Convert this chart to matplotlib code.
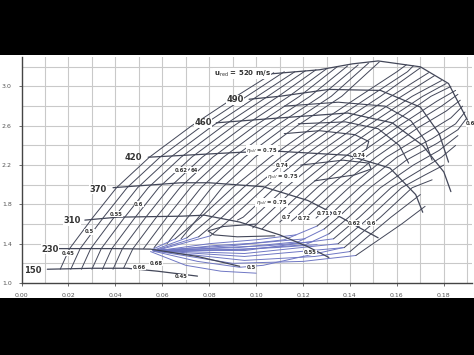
import matplotlib
matplotlib.use("Agg")
import matplotlib.pyplot as plt

# ---------------- data ----------------
x_ticks = [0.00, 0.02, 0.04, 0.06, 0.08, 0.10, 0.12, 0.14, 0.16, 0.18]
y_ticks = [1.0, 1.4, 1.8, 2.2, 2.6, 3.0]

# speed lines (u_red, m/s)
speed_150 = [(0.011, 1.14), (0.030, 1.15), (0.045, 1.15), (0.058, 1.12), (0.075, 1.07)]
speed_230 = [(0.016, 1.35), (0.040, 1.35), (0.055, 1.345), (0.075, 1.27), (0.093, 1.17)]
speed_310 = [(0.027, 1.64), (0.041, 1.67), (0.068, 1.68), (0.078, 1.69), (0.093, 1.62),
             (0.110, 1.49), (0.122, 1.37), (0.131, 1.26)]
speed_370 = [(0.039, 1.97), (0.068, 2.02), (0.080, 2.02), (0.103, 1.98), (0.122, 1.84),
             (0.136, 1.67), (0.145, 1.55), (0.152, 1.46)]
speed_420 = [(0.054, 2.28), (0.093, 2.33), (0.110, 2.34), (0.139, 2.30), (0.157, 2.17),
             (0.168, 1.90), (0.171, 1.72)]
speed_460 = [(0.083, 2.63), (0.110, 2.68), (0.139, 2.73), (0.158, 2.63), (0.171, 2.40),
             (0.180, 2.13), (0.183, 1.93)]
speed_490 = [(0.097, 2.87), (0.110, 2.90), (0.131, 2.97), (0.153, 2.96), (0.170, 2.79),
             (0.178, 2.52), (0.182, 2.23)]
speed_520 = [(0.107, 3.13), (0.127, 3.17), (0.141, 3.23), (0.152, 3.26), (0.170, 3.20),
             (0.182, 3.03), (0.190, 2.66)]

speed_lines = [speed_150, speed_230, speed_310, speed_370, speed_420, speed_460, speed_490, speed_520]
speed_labels = ["150", "230", "310", "370", "420", "460", "490"]
speed_label_pos = [(0.0048, 1.125), (0.012, 1.345), (0.0215, 1.635), (0.0326, 1.955),
                   (0.0476, 2.275), (0.0774, 2.63), (0.091, 2.865)]

# left arms of the efficiency contours
left_arms = [
    [(0.0165, 1.14), (0.0205, 1.35), (0.0305, 1.67), (0.0405, 1.97), (0.0545, 2.28), (0.0725, 2.60), (0.0915, 2.90), (0.1075, 3.14)],
    [(0.0210, 1.14), (0.0250, 1.35), (0.0350, 1.67), (0.0450, 1.97), (0.0590, 2.28), (0.0770, 2.60), (0.0960, 2.90), (0.1120, 3.15)],
    [(0.0255, 1.14), (0.0295, 1.35), (0.0395, 1.67), (0.0495, 1.97), (0.0635, 2.28), (0.0815, 2.60), (0.1005, 2.90), (0.1165, 3.15)],
    [(0.0300, 1.14), (0.0340, 1.35), (0.0440, 1.67), (0.0540, 1.97), (0.0680, 2.28), (0.0860, 2.60), (0.1050, 2.90), (0.1210, 3.16)],
    [(0.0345, 1.14), (0.0385, 1.35), (0.0485, 1.67), (0.0585, 1.97), (0.0725, 2.28), (0.0905, 2.60), (0.1095, 2.90), (0.1255, 3.17)],
    [(0.0390, 1.14), (0.0430, 1.35), (0.0530, 1.67), (0.0630, 1.97), (0.0770, 2.28), (0.0950, 2.60), (0.1140, 2.90), (0.1300, 3.18)],
    [(0.0435, 1.15), (0.0475, 1.35), (0.0575, 1.67), (0.0675, 1.97), (0.0815, 2.28), (0.0995, 2.60), (0.1185, 2.90), (0.1345, 3.20)],
    [(0.0520, 1.35), (0.0620, 1.67), (0.0720, 1.97), (0.0860, 2.28), (0.1040, 2.60), (0.1230, 2.90), (0.1390, 3.21)],
    [(0.0565, 1.36), (0.0665, 1.67), (0.0765, 1.97), (0.0905, 2.28), (0.1085, 2.60), (0.1275, 2.90), (0.1435, 3.22)],
    [(0.0620, 1.40), (0.0710, 1.67), (0.0810, 1.97), (0.0950, 2.28), (0.1130, 2.60), (0.1320, 2.90), (0.1480, 3.24)],
    [(0.0680, 1.45), (0.0755, 1.67), (0.0855, 1.97), (0.0995, 2.28), (0.1175, 2.60), (0.1365, 2.90), (0.1525, 3.25)],
]

# right arms: fan part (blue) and diagonal part (dark)
right_fans = [
    [(0.056, 1.345), (0.0655, 1.45)],
    [(0.057, 1.340), (0.0705, 1.46)],
    [(0.058, 1.340), (0.0755, 1.47)],
    [(0.059, 1.340), (0.0805, 1.48)],
    [(0.060, 1.335), (0.080, 1.40), (0.100, 1.44), (0.117, 1.49)],
    [(0.061, 1.330), (0.082, 1.38), (0.102, 1.41), (0.121, 1.45)],
    [(0.062, 1.325), (0.085, 1.36), (0.105, 1.38), (0.124, 1.42)],
    [(0.064, 1.320), (0.088, 1.34), (0.108, 1.36), (0.126, 1.39)],
    [(0.058, 1.335), (0.090, 1.38), (0.112, 1.44), (0.126, 1.58)],
    [(0.058, 1.335), (0.092, 1.36), (0.118, 1.42), (0.129, 1.55)],
    [(0.058, 1.335), (0.094, 1.34), (0.121, 1.39), (0.131, 1.50)],
    [(0.057, 1.335), (0.095, 1.33), (0.133, 1.45)],
    [(0.057, 1.330), (0.095, 1.30), (0.135, 1.40)],
    [(0.056, 1.330), (0.095, 1.27), (0.1375, 1.36)],
    [(0.056, 1.330), (0.095, 1.23), (0.125, 1.27), (0.140, 1.32)],
    [(0.056, 1.330), (0.090, 1.20), (0.120, 1.22), (0.1425, 1.28)],
    [(0.056, 1.325), (0.075, 1.22), (0.093, 1.16), (0.103, 1.18), (0.137, 1.36)],
    [(0.055, 1.320), (0.070, 1.18), (0.085, 1.12), (0.100, 1.10)],
]
right_arms = [
    [(0.0655, 1.45), (0.0765, 1.67), (0.0900, 1.97), (0.1060, 2.28), (0.1250, 2.60), (0.1440, 2.90), (0.1600, 3.15), (0.1640, 3.22)],
    [(0.0705, 1.46), (0.0810, 1.67), (0.0945, 1.97), (0.1105, 2.28), (0.1295, 2.60), (0.1485, 2.90), (0.1645, 3.15), (0.1670, 3.21)],
    [(0.0755, 1.47), (0.0855, 1.67), (0.0990, 1.97), (0.1150, 2.28), (0.1340, 2.60), (0.1530, 2.90), (0.1700, 3.19)],
    [(0.0805, 1.48), (0.0900, 1.67), (0.1035, 1.97), (0.1195, 2.28), (0.1385, 2.60), (0.1575, 2.90), (0.1735, 3.14)],
    [(0.0920, 1.64), (0.0945, 1.67), (0.1080, 1.97), (0.1240, 2.28), (0.1430, 2.60), (0.1620, 2.90), (0.1760, 3.11)],
    [(0.0955, 1.60), (0.0990, 1.67), (0.1125, 1.97), (0.1285, 2.28), (0.1475, 2.60), (0.1665, 2.90), (0.1790, 3.06)],
    [(0.0985, 1.56), (0.1035, 1.67), (0.1170, 1.97), (0.1330, 2.28), (0.1520, 2.60), (0.1710, 2.90), (0.1810, 3.03)],
    [(0.1025, 1.55), (0.1080, 1.67), (0.1215, 1.97), (0.1375, 2.28), (0.1565, 2.60), (0.1745, 2.90), (0.1830, 3.00)],
    [(0.1100, 1.62), (0.1125, 1.67), (0.1260, 1.97), (0.1420, 2.28), (0.1610, 2.60), (0.1770, 2.85), (0.1850, 2.96)],
    [(0.1150, 1.63), (0.1170, 1.67), (0.1305, 1.97), (0.1465, 2.28), (0.1655, 2.60), (0.1790, 2.80), (0.1860, 2.92)],
    [(0.1210, 1.66), (0.1350, 1.97), (0.1510, 2.28), (0.1690, 2.58), (0.1810, 2.75), (0.1870, 2.86)],
    [(0.1255, 1.66), (0.1395, 1.97), (0.1555, 2.28), (0.1720, 2.52), (0.1830, 2.68), (0.1880, 2.80)],
    [(0.1260, 1.58), (0.1305, 1.67), (0.1440, 1.97), (0.1600, 2.28), (0.1750, 2.47), (0.1850, 2.62), (0.1890, 2.74)],
    [(0.1290, 1.55), (0.1350, 1.67), (0.1485, 1.97), (0.1640, 2.25), (0.1770, 2.42), (0.1860, 2.56), (0.1895, 2.67)],
    [(0.1310, 1.50), (0.1395, 1.67), (0.1530, 1.97), (0.1670, 2.20), (0.1780, 2.35), (0.1860, 2.50)],
    [(0.1330, 1.45), (0.1440, 1.67), (0.1575, 1.97), (0.1700, 2.15), (0.1790, 2.28), (0.1850, 2.40)],
    [(0.1350, 1.40), (0.1485, 1.67), (0.1620, 1.97), (0.1720, 2.10), (0.1800, 2.20)],
    [(0.1375, 1.36), (0.1530, 1.67), (0.1665, 1.97), (0.1750, 2.05)],
    [(0.1400, 1.32), (0.1575, 1.67), (0.1700, 1.90)],
    [(0.1425, 1.28), (0.1620, 1.60), (0.1720, 1.78)],
]

# inner islands / C-shaped contours
island_075 = [(0.100, 1.60), (0.086, 1.575), (0.0795, 1.53), (0.082, 1.49), (0.092, 1.47), (0.108, 1.48)]
c074_low = [(0.119, 2.20), (0.137, 2.25), (0.148, 2.22), (0.149, 2.16), (0.142, 2.10), (0.125, 2.04)]
c074_high = [(0.112, 2.52), (0.127, 2.55), (0.142, 2.51), (0.148, 2.44), (0.147, 2.36)]
c_outer1 = [(0.112, 2.80), (0.135, 2.84), (0.155, 2.80), (0.166, 2.65), (0.172, 2.45), (0.175, 2.25)]
c_outer2 = [(0.118, 2.62), (0.138, 2.64), (0.152, 2.57), (0.161, 2.40), (0.165, 2.22)]
c_curves = [island_075, c074_low, c074_high, c_outer1, c_outer2]

eff_labels = ["0.45", "0.5", "0.55", "0.6", "0.62", "64", "0.66", "0.68", "0.45", "0.5", "0.55",
              "0.7", "0.72", "0.71", "0.7", "0.62", "0.6", "0.74", "0.74", "0.6"]
eff_label_pos = [(0.020, 1.305), (0.029, 1.52), (0.0405, 1.70), (0.050, 1.80), (0.068, 2.15),
                 (0.0735, 2.15), (0.050, 1.16), (0.0575, 1.20), (0.068, 1.065), (0.098, 1.16),
                 (0.123, 1.31), (0.113, 1.67), (0.1205, 1.66), (0.1285, 1.71), (0.1345, 1.71),
                 (0.142, 1.61), (0.149, 1.61), (0.111, 2.20), (0.144, 2.30), (0.1915, 2.62)]
eta_label_pos = [(0.1025, 2.35), (0.1115, 2.08), (0.1065, 1.82)]

# ---------------- drawing ----------------
W, H = 474, 355
fig = plt.figure(figsize=(W / 100, H / 100), dpi=100, facecolor="black")

bg = fig.add_axes([0, (H - 298) / H, 1, (298 - 55) / H])
bg.set_facecolor("white")
bg.set_xticks([])
bg.set_yticks([])
for sp in bg.spines.values():
    sp.set_visible(False)
bg.set_zorder(0)

ax = fig.add_axes([21.5 / W, (H - 283) / H, (472 - 21.5) / W, (283 - 57) / H])
ax.set_zorder(1)
ax.set_facecolor("white")
ax.set_xlim(0, 0.192)
ax.set_ylim(1.0, 3.3)

dark = "#434759"
blue = "#6f77c4"

for xv in [i * 0.01 for i in range(1, 20)]:
    ax.axvline(xv, color="#c9c9c9", lw=0.8, zorder=1)
for yv in [1.2, 1.4, 1.6, 1.8, 2.0, 2.2, 2.4, 2.6, 2.8, 3.0, 3.2]:
    ax.axhline(yv, color="#c9c9c9", lw=0.8, zorder=1)

def draw(pts, color=dark, lw=0.7, z=3):
    ax.plot([p[0] for p in pts], [p[1] for p in pts], color=color, lw=lw, zorder=z,
            solid_joinstyle="round", solid_capstyle="round")

for s in speed_lines:
    draw(s, lw=0.9, z=4)
for a in left_arms:
    draw(a)
for f in right_fans:
    draw(f, color=blue, lw=0.7)
for a in right_arms:
    draw(a)
for c in c_curves:
    draw(c, lw=0.8)

tb = dict(facecolor="white", edgecolor="none", pad=0.3)
for lab, (x, y) in zip(speed_labels, speed_label_pos):
    ax.text(x, y, lab, fontsize=6, fontweight="bold", color="#333333",
            ha="center", va="center", zorder=6, bbox=tb)
ax.text(0.094, 3.13, r"u$_{\mathrm{red}}$ = 520 m/s", fontsize=5.0, fontweight="bold",
        color="#333333", ha="center", va="center", zorder=6, bbox=tb)
for lab, (x, y) in zip(eff_labels, eff_label_pos):
    ax.text(x, y, lab, fontsize=3.8, fontweight="bold", color="#333333",
            ha="center", va="center", zorder=6, bbox=tb, clip_on=False)
for (x, y) in eta_label_pos:
    ax.text(x, y, r"$\eta_{isV}$ = 0.75", fontsize=3.8, fontweight="bold", color="#333333",
            ha="center", va="center", zorder=6, bbox=tb)

ax.set_xticks(x_ticks)
ax.set_xticklabels([f"{v:.2f}" for v in x_ticks])
ax.set_yticks(y_ticks)
ax.set_yticklabels([f"{v:.1f}" for v in y_ticks])
ax.tick_params(axis="both", labelsize=4.5, colors="#555555", length=2, width=0.6, pad=5)
for side in ["top", "right"]:
    ax.spines[side].set_visible(False)
ax.spines["left"].set_color("#444444")
ax.spines["bottom"].set_color("#444444")
ax.spines["left"].set_linewidth(1.0)
ax.spines["bottom"].set_linewidth(1.0)

fig.savefig("out.png", dpi=100, facecolor="black")
